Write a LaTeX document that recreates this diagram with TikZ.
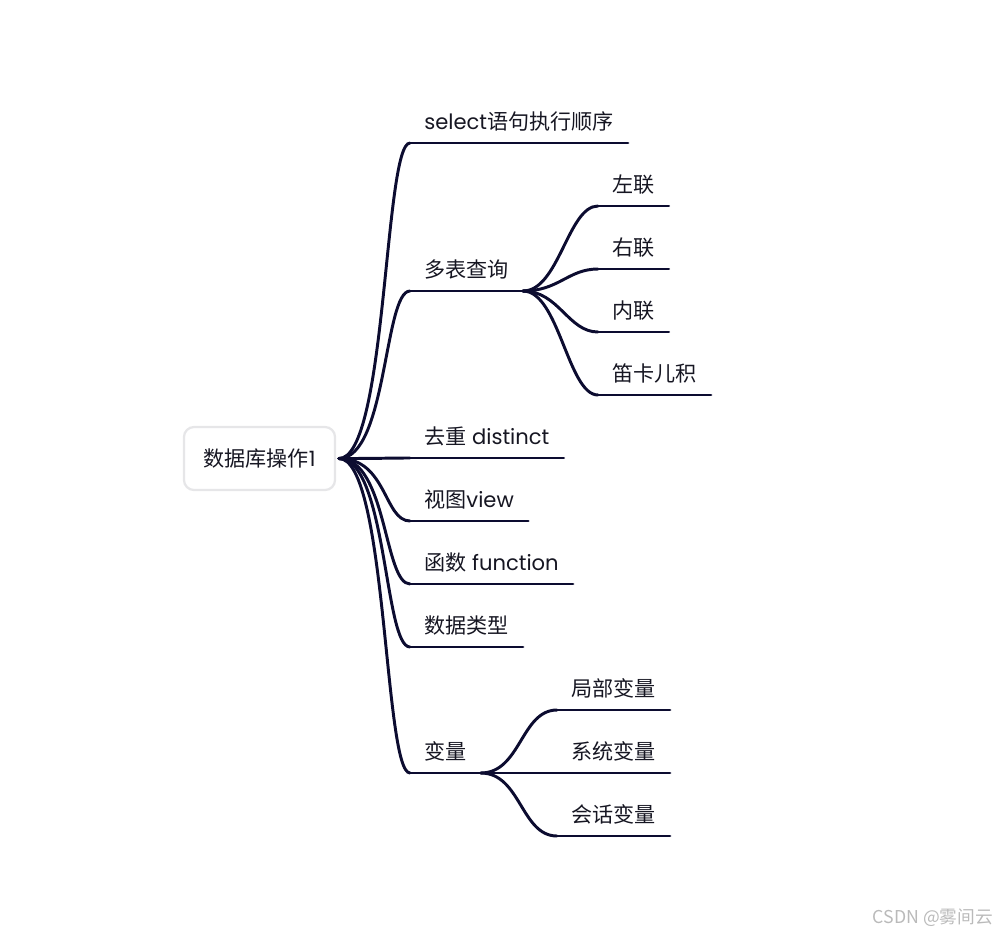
\documentclass[tikz,border=0pt]{standalone}
\usepackage{fontspec}
\setmainfont{Poppins}
\newfontfamily\cjk{Noto Sans CJK SC}
\usepackage{xcolor}
\usetikzlibrary{positioning}

\definecolor{linenavy}{RGB}{12,12,48}
\definecolor{textdark}{RGB}{22,22,34}
\definecolor{rootborder}{RGB}{230,230,232}

\begin{document}
\begin{tikzpicture}[x=0.025cm, y=-0.025cm,
    root/.style={rectangle, draw=rootborder, line width=1.6pt, rounded corners=0.25cm, fill=white,
        minimum width=3.775cm, minimum height=1.575cm, text=textdark, font=\fontsize{15}{18}\selectfont},
    topic/.style={anchor=south west, inner xsep=0.35cm, inner ysep=0pt, text height=0.52cm, text depth=0.34cm,
        text=textdark, font=\fontsize{15}{18}\selectfont},
    branch/.style={draw=linenavy, line width=2.1pt, line cap=round}
]
    \useasboundingbox (0,0) rectangle (1000,936);

    \node[root] (db) at (259.5,458.5) {{\cjk 数据库操作}1};

    \node[topic] (sel) at (410,143) {select{\cjk 语句执行顺序}};
    \node[topic] (multi) at (410,291) {\cjk 多表查询};
    \node[topic] (dist) at (410,458) {{\cjk 去重} distinct};
    \node[topic] (view) at (410,521) {{\cjk 视图}view};
    \node[topic] (func) at (410,584) {{\cjk 函数} function};
    \node[topic] (dtype) at (410,647) {\cjk 数据类型};
    \node[topic] (var) at (410,773) {\cjk 变量};

    \node[topic] (left) at (598,206) {\cjk 左联};
    \node[topic] (right) at (598,269) {\cjk 右联};
    \node[topic] (inner) at (598,332) {\cjk 内联};
    \node[topic] (cart) at (598,395) {\cjk 笛卡儿积};

    \node[topic] (local) at (557,710) {\cjk 局部变量};
    \node[topic] (sys) at (557,773) {\cjk 系统变量};
    \node[topic] (sess) at (557,836) {\cjk 会话变量};

    % underlines
    \foreach \t in {sel,multi,dist,view,func,dtype,var,left,right,inner,cart,local,sys,sess}
        \draw[branch] (\t.south west) -- (\t.south east);

    % root connectors
    \foreach \t in {sel,multi,dist,view,func,dtype,var}
        \draw[branch] ([xshift=2pt]db.east) .. controls +(48,0) and +(-26,0) .. (\t.south west);

    % sub connectors
    \foreach \t in {left,right,inner,cart}
        \draw[branch] (multi.south east) .. controls +(36,0) and +(-30,0) .. (\t.south west);
    \foreach \t in {local,sys,sess}
        \draw[branch] (var.south east) .. controls +(40,0) and +(-36,0) .. (\t.south west);

    \node[anchor=east, text=black!27, font=\cjk\fontsize{12.6}{15}\selectfont] (mark) at (998,918) {CSDN @雾间云};
\end{tikzpicture}
\end{document}
